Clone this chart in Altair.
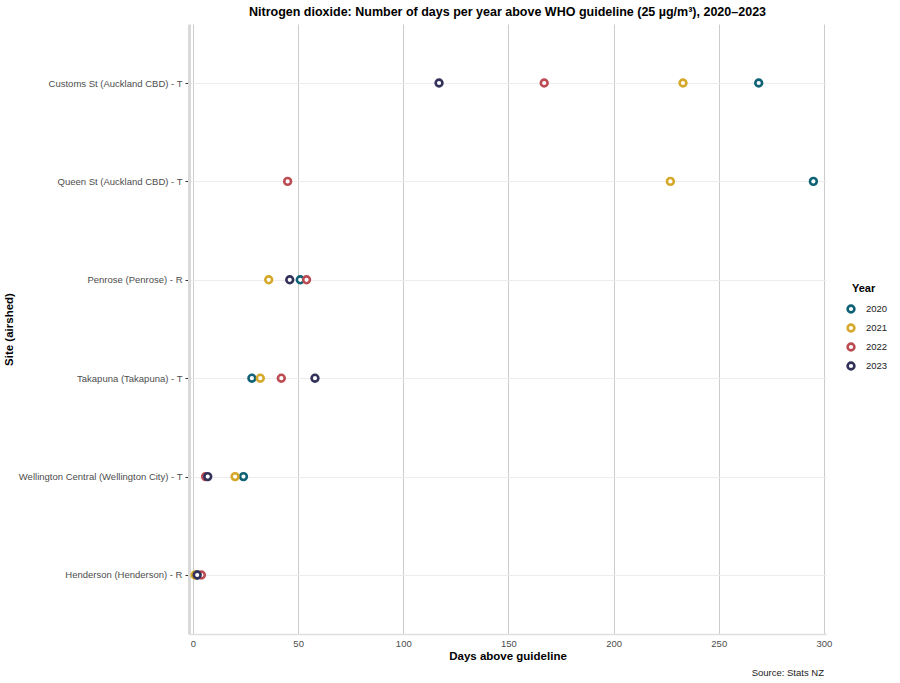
import altair as alt
import pandas as pd

sites = [
    "Customs St (Auckland CBD) - T",
    "Queen St (Auckland CBD) - T",
    "Penrose (Penrose) - R",
    "Takapuna (Takapuna) - T",
    "Wellington Central (Wellington City) - T",
    "Henderson (Henderson) - R",
]
years = ["2020", "2021", "2022", "2023"]
# days above guideline, per site, per year (None = no data)
v2020 = [269, 295, 51, 28, 24, 2]
v2021 = [233, 227, 36, 32, 20, 1]
v2022 = [167, 45, 54, 42, 6, 4]
v2023 = [117, None, 46, 58, 7, 2]
colors = ["#0f6176", "#d6a829", "#bc4c53", "#323159"]

rows = []
for yr, vals in zip(years, [v2020, v2021, v2022, v2023]):
    for s, v in zip(sites, vals):
        if v is not None:
            rows.append({"site": s, "year": yr, "days": v})
df = pd.DataFrame(rows)

W, H = 637, 610
FONT = "Liberation Sans"

points = alt.Chart(df).mark_point(
    shape="circle", filled=True, fill="white", strokeWidth=2.6, size=46, opacity=1
).encode(
    x=alt.X("days:Q", title="Days above guideline",
            scale=alt.Scale(domain=[-1.9, 301], nice=False, zero=False),
            axis=alt.Axis(values=[0, 50, 100, 150, 200, 250, 300], ticks=False,
                          grid=True, gridColor="#cccccc", gridWidth=1,
                          domain=True, domainColor="#e0e0e0", domainWidth=1.5,
                          labelColor="#4d4d4d", labelFontSize=9.5, labelPadding=4,
                          titleFontSize=11.5, titleFontWeight="bold", titleColor="black",
                          titlePadding=3)),
    y=alt.Y("site:N", title="Site (airshed)", sort=sites,
            scale=alt.Scale(type="point", padding=0.6),
            axis=alt.Axis(ticks=True, tickSize=4, tickColor="#333333", tickWidth=1,
                          grid=True, gridColor="#ececec", gridWidth=1,
                          domain=True, domainColor="#d9d9d9", domainWidth=3,
                          labelColor="#4d4d4d", labelFontSize=9.5, labelPadding=3,
                          titleFontSize=11.5, titleFontWeight="bold", titleColor="black",
                          titlePadding=4)),
    stroke=alt.Stroke("year:N", title="Year",
                      scale=alt.Scale(domain=years, range=colors),
                      legend=alt.Legend(orient="none", legendX=663, legendY=259,
                                        titleFontSize=11, titleFontWeight="bold",
                                        titleColor="black", labelFontSize=9.5,
                                        labelColor="#222222", symbolSize=46,
                                        symbolStrokeWidth=2.6, symbolFillColor="white",
                                        symbolOffset=-6,
                                        rowPadding=1, titlePadding=10, labelOffset=10)),
    order=alt.Order("year:N"),
)

caption = alt.Chart(pd.DataFrame({"t": ["Source: Stats NZ"]})).mark_text(
    align="right", baseline="middle", fontSize=9.5, color="#222222", font=FONT
).encode(x=alt.value(W - 2), y=alt.value(H + 39), text="t:N")

chart = alt.layer(points, caption).properties(
    width=W, height=H,
    title=alt.TitleParams(
        "Nitrogen dioxide: Number of days per year above WHO guideline (25 µg/m³), 2020–2023",
        fontSize=12.5, fontWeight="bold", color="black", anchor="middle", offset=6, font=FONT),
    padding={"left": 3, "top": 5, "right": 5, "bottom": 5},
).configure(font=FONT).configure_view(stroke=None)

chart.save("out.html", embed_options={"renderer": "svg", "actions": False})
